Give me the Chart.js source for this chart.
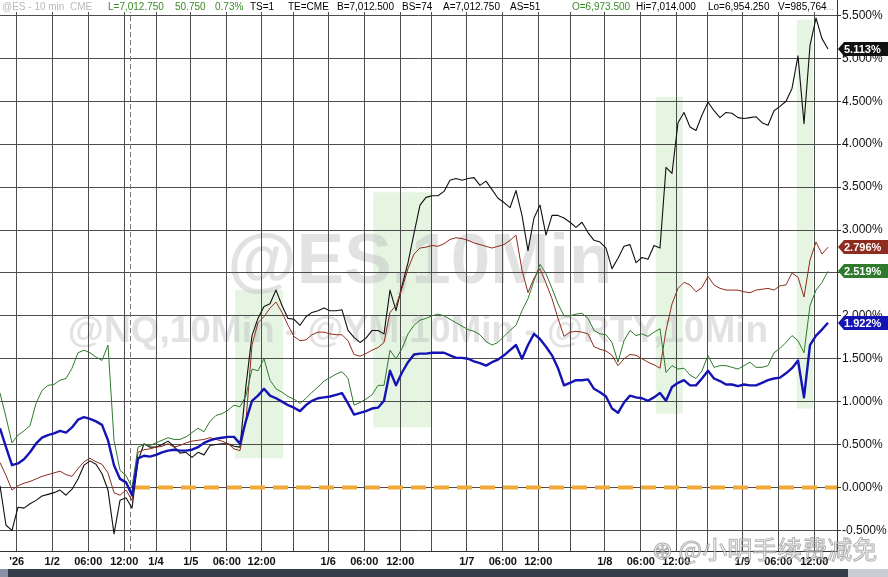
<!DOCTYPE html>
<html>
<head>
<meta charset="utf-8">
<script src="https://cdn.jsdelivr.net/npm/chart.js@4.4.1/dist/chart.umd.min.js"></script>
<style>
  body { margin: 0; background: #fff; width: 888px; height: 577px; overflow: hidden; position: relative; font-family: "Liberation Sans", Arial, sans-serif; }
  #wrap { position: absolute; left: 0; top: 0; width: 888px; height: 569px; }
  #hdr { position: absolute; left: 0; top: 0; width: 836px; height: 12px; background: #fff; font-size: 10px; line-height: 13px; white-space: nowrap; }
  #hdr span { position: absolute; top: 0; }
  .g { color: #3a8a28; }
  .k { color: #000; }
  .l { color: #b9b9b9; }
  #bar { position: absolute; left: 0; top: 569px; width: 888px; height: 8px; background: #343d47; }
  #barL { position: absolute; left: 0; top: 569px; width: 8px; height: 8px; background: #8c92a6; }
  #barR { position: absolute; left: 848px; top: 569px; width: 40px; height: 8px; background: #c9ccd3; }
  #wm { position: absolute; left: 652px; top: 533px; font-family: "Noto Sans CJK SC", sans-serif; font-size: 25px; line-height: 30px; color: rgba(255,255,255,0.55); -webkit-text-stroke: 1px rgba(110,110,110,0.55); white-space: nowrap; }
</style>
</head>
<body>
<div id="wrap"><canvas id="c" width="888" height="569"></canvas></div>
<div id="hdr">
  <span class="l" style="left:2px">@ES - 10 min&nbsp; CME</span>
  <span class="g" style="left:108px">L=7,012.750</span>
  <span class="g" style="left:175px">50.750</span>
  <span class="g" style="left:215px">0.73%</span>
  <span class="k" style="left:250px">TS=1</span>
  <span class="k" style="left:288px">TE=CME</span>
  <span class="k" style="left:337px">B=7,012.500</span>
  <span class="k" style="left:402px">BS=74</span>
  <span class="k" style="left:443px">A=7,012.750</span>
  <span class="k" style="left:510px">AS=51</span>
  <span class="g" style="left:572px">O=6,973.500</span>
  <span class="k" style="left:636px">Hi=7,014.000</span>
  <span class="k" style="left:708px">Lo=6,954.250</span>
  <span class="k" style="left:778px">V=985,764</span>
  <span class="l" style="left:826px">...</span>
</div>
<div id="bar"></div><div id="barL"></div><div id="barR"></div>
<div id="wm">⊛ @小明手续费减免</div>
<script>
// % change since the first bar, one value per session hour
const blackPct = [
  0.02, -0.44, -0.50, -0.23, -0.24, -0.19, -0.15, -0.10, -0.08, -0.06,
  -0.03, -0.09, -0.02, 0.10, 0.26, 0.31, 0.27, 0.16, -0.03, -0.54,
  -0.15, -0.12, -0.24, 0.31, 0.51, 0.47, 0.47, 0.50, 0.54, 0.48,
  0.40, 0.41, 0.35, 0.41, 0.38, 0.49, 0.50, 0.51, 0.51, 0.48,
  0.47, 1.19, 1.77, 1.97, 2.11, 2.14, 2.30, 2.12, 1.97, 1.96,
  1.89, 1.99, 2.04, 2.06, 2.09, 2.06, 2.06, 2.07, 1.83, 1.75,
  1.69, 1.74, 1.83, 1.83, 1.79, 2.30, 2.06, 2.35, 2.62, 2.96,
  3.29, 3.38, 3.40, 3.40, 3.45, 3.58, 3.60, 3.58, 3.60, 3.61,
  3.52, 3.57, 3.47, 3.37, 3.32, 3.26, 3.46, 3.17, 2.76, 3.14,
  3.29, 2.94, 3.17, 3.17, 3.14, 3.09, 3.03, 3.09, 2.97, 2.88,
  2.86, 2.79, 2.55, 2.67, 2.81, 2.83, 2.62, 2.68, 2.66, 2.82,
  2.79, 3.73, 3.66, 4.25, 4.37, 4.20, 4.16, 4.34, 4.49, 4.39,
  4.31, 4.37, 4.36, 4.31, 4.30, 4.31, 4.32, 4.25, 4.22, 4.39,
  4.44, 4.50, 4.65, 5.03, 4.24, 5.15, 5.47, 5.23, 5.11
];
const brownPct = [
  0.29, 0.14, -0.03, 0.02, 0.05, 0.07, 0.10, 0.13, 0.15, 0.17,
  0.19, 0.15, 0.13, 0.22, 0.30, 0.34, 0.30, 0.27, 0.17, -0.06,
  -0.09, -0.03, -0.15, 0.41, 0.44, 0.45, 0.47, 0.48, 0.51, 0.47,
  0.49, 0.52, 0.54, 0.55, 0.56, 0.58, 0.56, 0.54, 0.51, 0.45,
  0.43, 0.78, 1.66, 1.92, 1.99, 2.09, 2.16, 2.04, 1.89, 1.76,
  1.71, 1.72, 1.78, 1.81, 1.81, 1.79, 1.78, 1.78, 1.71, 1.55,
  1.53, 1.56, 1.60, 1.63, 1.69, 2.04, 2.12, 2.32, 2.55, 2.72,
  2.79, 2.80, 2.82, 2.81, 2.84, 2.89, 2.91, 2.90, 2.88, 2.85,
  2.83, 2.81, 2.79, 2.81, 2.83, 2.88, 2.94, 2.53, 2.27, 2.44,
  2.55, 2.38, 2.20, 1.97, 1.76, 1.81, 1.82, 1.81, 1.79, 1.64,
  1.61, 1.59, 1.54, 1.42, 1.50, 1.55, 1.54, 1.50, 1.46, 1.43,
  1.39, 1.83, 2.14, 2.32, 2.39, 2.36, 2.28, 2.33, 2.46, 2.36,
  2.32, 2.30, 2.30, 2.30, 2.28, 2.27, 2.30, 2.31, 2.32, 2.30,
  2.35, 2.36, 2.50, 2.45, 2.22, 2.65, 2.86, 2.72, 2.80
];
const greenPct = [
  1.10, 0.82, 0.52, 0.61, 0.66, 0.72, 0.98, 1.13, 1.19, 1.20,
  1.25, 1.27, 1.39, 1.57, 1.60, 1.57, 1.52, 1.48, 1.66, 0.55,
  0.20, 0.14, 0.00, 0.47, 0.50, 0.49, 0.52, 0.55, 0.58, 0.56,
  0.56, 0.59, 0.64, 0.69, 0.65, 0.77, 0.84, 0.86, 0.90, 0.96,
  0.94, 1.07, 1.38, 1.36, 1.50, 1.25, 1.15, 1.11, 1.06, 1.03,
  0.98, 1.04, 1.11, 1.17, 1.24, 1.28, 1.32, 1.35, 1.27, 0.96,
  0.99, 1.03, 1.08, 1.19, 1.19, 1.60, 1.50, 1.62, 1.79, 1.89,
  1.95, 1.97, 2.00, 2.02, 2.00, 1.96, 1.92, 1.88, 1.84, 1.82,
  1.78, 1.70, 1.66, 1.69, 1.76, 1.83, 1.89, 2.06, 2.20, 2.41,
  2.60, 2.49, 2.32, 2.14, 2.00, 2.00, 2.02, 2.03, 1.97, 1.83,
  1.79, 1.78, 1.69, 1.46, 1.71, 1.83, 1.77, 1.79, 1.76, 1.81,
  1.85, 1.34, 1.42, 1.38, 1.39, 1.31, 1.27, 1.36, 1.54, 1.40,
  1.42, 1.42, 1.40, 1.38, 1.42, 1.46, 1.40, 1.40, 1.42, 1.57,
  1.62, 1.69, 1.77, 1.71, 1.57, 2.12, 2.30, 2.39, 2.52
];
const bluePct = [
  0.69, 0.47, 0.26, 0.28, 0.33, 0.41, 0.51, 0.58, 0.61, 0.63,
  0.66, 0.64, 0.70, 0.79, 0.82, 0.80, 0.77, 0.73, 0.55, 0.26,
  0.10, 0.06, -0.09, 0.34, 0.37, 0.36, 0.38, 0.41, 0.43, 0.44,
  0.43, 0.43, 0.44, 0.47, 0.52, 0.55, 0.57, 0.58, 0.59, 0.59,
  0.51, 0.78, 1.01, 1.07, 1.15, 1.07, 1.04, 1.00, 0.96, 0.93,
  0.89, 0.96, 1.01, 1.04, 1.05, 1.06, 1.08, 1.10, 0.98, 0.85,
  0.87, 0.89, 0.92, 0.93, 1.01, 1.36, 1.19, 1.34, 1.46, 1.55,
  1.56, 1.56, 1.57, 1.57, 1.57, 1.54, 1.51, 1.51, 1.50, 1.47,
  1.45, 1.42, 1.46, 1.49, 1.54, 1.60, 1.66, 1.50, 1.66, 1.79,
  1.73, 1.64, 1.54, 1.39, 1.19, 1.22, 1.25, 1.25, 1.26, 1.15,
  1.11, 1.06, 0.92, 0.87, 0.99, 1.07, 1.05, 1.04, 1.01, 1.05,
  1.10, 1.01, 1.17, 1.22, 1.25, 1.19, 1.19, 1.27, 1.36, 1.27,
  1.24, 1.20, 1.20, 1.18, 1.20, 1.19, 1.19, 1.22, 1.25, 1.27,
  1.28, 1.33, 1.39, 1.48, 1.05, 1.66, 1.77, 1.84, 1.92
];
const lastTags = ["5.113%", "2.796%", "2.519%", "1.922%"];

// x axis in session hours (weekend and daily breaks removed)
const tickHours = [2.8, 8.7, 14.7, 20.7, 26, 31.8, 37.8, 43.6, 48.9, 54.7, 60.7, 66.7, 71.9,
  77.8, 83.8, 89.7, 95, 100.8, 106.8, 112.7, 117.9, 123.75, 129.7, 135.7];
const tickLabels = ["'26", "1/2", "06:00", "12:00", "1/4", "1/5", "06:00", "12:00", "", "1/6", "06:00", "12:00", "",
  "1/7", "06:00", "12:00", "", "1/8", "06:00", "12:00", "", "1/9", "06:00", "12:00"];
const sessionBreaks = [21.7];
const yTicks = [-0.5, 0, 0.5, 1, 1.5, 2, 2.5, 3, 3.5, 4, 4.5, 5, 5.5];

// zero reference line and highlighted boxes (hours / %)
const zeroHours = [22.5, 139.5];
const zeroPct = [0, 0];
const boxHours = [[39.2, 47.2], [62.2, 72.0], [109.3, 113.8], [132.8, 135.5]];
const boxPct = [[0.34, 2.30], [0.70, 3.44], [0.86, 4.55], [0.92, 5.45]];

const hours = blackPct.map((_, i) => i);
const pts = (arr) => hours.map((h, i) => ({ x: h, y: arr[i] }));

const seriesColors = ["#111111", "#8e2c1f", "#2f7a2c", "#1414b4"];

const backdrop = {
  id: "backdrop",
  beforeDraw(chart) {
    const { ctx, scales: { x, y } } = chart;
    ctx.save();
    ctx.fillStyle = "rgba(150, 215, 140, 0.25)";
    boxHours.forEach((b, i) => {
      const x0 = x.getPixelForValue(b[0]), x1 = x.getPixelForValue(b[1]);
      const y0 = y.getPixelForValue(boxPct[i][1]), y1 = y.getPixelForValue(boxPct[i][0]);
      ctx.fillRect(x0, y0, x1 - x0, y1 - y0);
    });
    ctx.fillStyle = "rgba(190, 190, 190, 0.45)";
    ctx.textAlign = "center";
    ctx.textBaseline = "alphabetic";
    ctx.font = "bold 71px 'Liberation Sans', Arial";
    ctx.fillText("@ES,10Min", 420, 283);
    ctx.font = "bold 37px 'Liberation Sans', Arial";
    ctx.fillText("@NQ,10Min - @YM,10Min - @RTY,10Min", 418, 342);
    ctx.restore();
  },
  beforeDatasetsDraw(chart) {
    const { ctx, chartArea: a, scales: { x } } = chart;
    ctx.save();
    ctx.strokeStyle = "#777";
    ctx.lineWidth = 1;
    ctx.setLineDash([5, 3]);
    sessionBreaks.forEach((h) => {
      const px = Math.round(x.getPixelForValue(h)) + 0.5;
      ctx.beginPath();
      ctx.moveTo(px, a.top);
      ctx.lineTo(px, a.bottom);
      ctx.stroke();
    });
    ctx.restore();
  },
  afterDraw(chart) {
    const { ctx, chartArea: a, scales: { y } } = chart;
    const ends = [blackPct, brownPct, greenPct, bluePct].map((s) => s[s.length - 1]);
    ctx.save();
    ctx.font = "bold 11px 'Liberation Sans', Arial";
    ctx.textBaseline = "middle";
    ends.forEach((v, i) => {
      const py = Math.round(y.getPixelForValue(v));
      const x0 = a.right + 1;
      ctx.fillStyle = seriesColors[i];
      ctx.beginPath();
      ctx.moveTo(x0, py);
      ctx.lineTo(x0 + 6, py - 7);
      ctx.lineTo(888, py - 7);
      ctx.lineTo(888, py + 7);
      ctx.lineTo(x0 + 6, py + 7);
      ctx.closePath();
      ctx.fill();
      ctx.fillStyle = "#fff";
      ctx.fillText(lastTags[i], x0 + 6, py + 1);
    });
    ctx.restore();
  },
};

new Chart(document.getElementById("c"), {
  type: "line",
  data: {
    datasets: [
      { data: pts(bluePct), borderColor: seriesColors[3], borderWidth: 2.4 },
      { data: pts(greenPct), borderColor: seriesColors[2], borderWidth: 1 },
      { data: pts(brownPct), borderColor: seriesColors[1], borderWidth: 1 },
      { data: pts(blackPct), borderColor: seriesColors[0], borderWidth: 1.1 },
      {
        data: zeroHours.map((h, i) => ({ x: h, y: zeroPct[i] })),
        borderColor: "#f0a93a",
        borderWidth: 4,
        borderDash: [15, 8],
      },
    ],
  },
  options: {
    responsive: false,
    animation: false,
    devicePixelRatio: 1,
    layout: { padding: 0 },
    elements: { point: { radius: 0 }, line: { tension: 0, borderJoinStyle: "round" } },
    plugins: { legend: { display: false }, tooltip: { enabled: false }, title: { display: false } },
    scales: {
      x: {
        type: "linear",
        min: 0,
        max: 139.5,
        afterBuildTicks: (scale) => { scale.ticks = tickHours.map((v) => ({ value: v })); },
        afterFit: (scale) => { scale.height = 18; scale.paddingLeft = 0; scale.paddingRight = 0; },
        grid: { color: "#4d4d4d", lineWidth: 1, drawTicks: false },
        border: { color: "#333", width: 1 },
        ticks: {
          autoSkip: false,
          maxRotation: 0,
          minRotation: 0,
          padding: 4,
          color: "#111",
          font: { family: "'Liberation Sans', Arial", size: 11, weight: "bold" },
          callback: (v, i) => tickLabels[i],
        },
      },
      y: {
        position: "right",
        min: -0.74,
        max: 5.68,
        afterBuildTicks: (scale) => { scale.ticks = yTicks.map((v) => ({ value: v })); },
        afterFit: (scale) => { scale.width = 51; scale.paddingTop = 0; scale.paddingBottom = 0; },
        grid: { color: "#4d4d4d", lineWidth: 1, tickLength: 4, tickColor: "#333" },
        border: { color: "#333", width: 1 },
        ticks: {
          padding: 1,
          color: "#111",
          font: { family: "'Liberation Sans', Arial", size: 12 },
          callback: (v) => v.toFixed(3) + "%",
        },
      },
    },
  },
  plugins: [backdrop],
});
</script>
</body>
</html>
